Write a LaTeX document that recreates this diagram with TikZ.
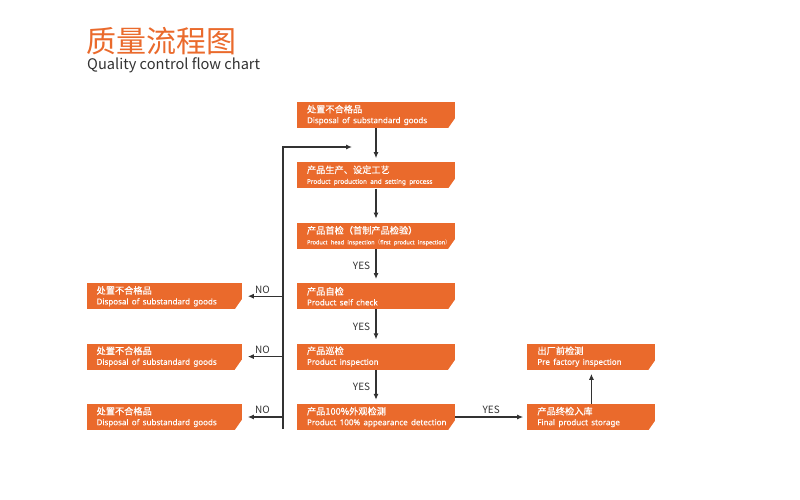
\documentclass[tikz,border=0pt]{standalone}
\usepackage{fontspec}
\setmainfont{Noto Sans CJK SC}
\newfontfamily\enfont[WordSpace=0.8, FakeBold=0.3]{Noto Sans}
\newfontfamily\cnfont[FakeBold=0.5]{Noto Sans CJK SC}
\usetikzlibrary{arrows.meta, positioning}
\definecolor{qcorange}{RGB}{234,106,44}
\definecolor{qcline}{RGB}{50,50,50}
\tikzstyle{block} = [rectangle, fill=qcorange, text=white, align=left,
  inner xsep=10pt, inner ysep=0pt, minimum height=26pt]
\tikzstyle{flow} = [draw=qcline, line width=1.1pt, -{Latex[length=6pt,width=5pt]}]
\tikzstyle{tag} = [font=\fontsize{10}{11}\selectfont, text=qcline]
\newcommand{\boxtext}[3][8]{{\cnfont\fontsize{9.2}{11}\selectfont\mbox{#2}\par}%
  {\enfont\fontsize{#1}{10.5}\selectfont\mbox{#3}\par}}

\begin{document}
\begin{tikzpicture}[x=1pt,y=-1pt,node distance=34pt]
  \useasboundingbox (0,0) rectangle (800,500);
  % title
  \node[anchor=west, text=qcorange, font=\fontsize{30}{32}\selectfont, inner sep=0pt] (title) at (86,41) {质量流程图};
  \node[anchor=west, text=qcline, font=\fontsize{14.6}{16}\selectfont, inner sep=0pt] (subtitle) at (87,65) {Quality control flow chart};
  % main column
  \node[block, text width=138pt] (dispA) at (376,115) {\boxtext{处置不合格品}{Disposal of substandard goods}};
  \node[block, text width=138pt, below=of dispA] (prod) {\boxtext[6.4]{产品生产、设定工艺}{Product production and setting process}};
  \node[block, text width=138pt, below=of prod] (head) {\boxtext[5.6]{产品首检（首制产品检验）}{Product head inspection{\rmfamily（}first product inspection{\rmfamily）}}};
  \node[block, text width=138pt, below=of head] (self) {\boxtext{产品自检}{Product self check}};
  \node[block, text width=138pt, below=of self] (patrol) {\boxtext{产品巡检}{Product inspection}};
  \node[block, text width=138pt, below=of patrol] (full) {\boxtext{产品100\%外观检测}{Product 100\% appearance detection}};
  % left column
  \node[block, text width=135pt, left=55pt of self] (dispB) {\boxtext{处置不合格品}{Disposal of substandard goods}};
  \node[block, text width=135pt, left=55pt of patrol] (dispC) {\boxtext{处置不合格品}{Disposal of substandard goods}};
  \node[block, text width=135pt, left=55pt of full] (dispD) {\boxtext{处置不合格品}{Disposal of substandard goods}};
  % right column
  \node[block, text width=108pt, right=72pt of full] (store) {\boxtext{产品终检入库}{Final product storage}};
  \node[block, text width=108pt, above=of store] (pre) {\boxtext{出厂前检测}{Pre factory inspection}};
  % cut corners
  \foreach \n in {dispA,prod,head,self,patrol,full,dispB,dispC,dispD,store,pre}
    \fill[white] (\n.south east) -- ([yshift=10pt]\n.south east) -- ([xshift=-7pt]\n.south east) -- cycle;
  % return line
  \coordinate (loopbot) at (283,429);
  \coordinate (looptop) at (283,147);
  \coordinate (loopend) at (352,147);
  \draw[flow] (loopbot) -- (looptop) -- (loopend);
  % arrows
  \draw[flow, shorten >=4pt] (dispA) -- (prod);
  \draw[flow, shorten >=4pt] (prod) -- (head);
  \draw[flow, shorten >=4pt] (head) -- node[tag, left=2pt] (yesA) {YES} (self);
  \draw[flow, shorten >=4pt] (self) -- node[tag, left=2pt] (yesB) {YES} (patrol);
  \draw[flow, shorten >=4pt] (patrol) -- node[tag, left=2pt] (yesC) {YES} (full);
  \draw[flow, shorten >=4pt] (full) -- node[tag, above=-1pt] (yesD) {YES} (store);
  \draw[flow, shorten >=4pt] (store) -- (pre);
  \draw[flow, shorten >=6pt] (self.west -| looptop) -- node[tag, above=-1pt] (noA) {NO} (dispB);
  \draw[flow, shorten >=6pt] (patrol.west -| looptop) -- node[tag, above=-1pt] (noB) {NO} (dispC);
  \draw[flow, shorten >=6pt] (full.west -| looptop) -- node[tag, above=-1pt] (noC) {NO} (dispD);
\end{tikzpicture}
\end{document}
